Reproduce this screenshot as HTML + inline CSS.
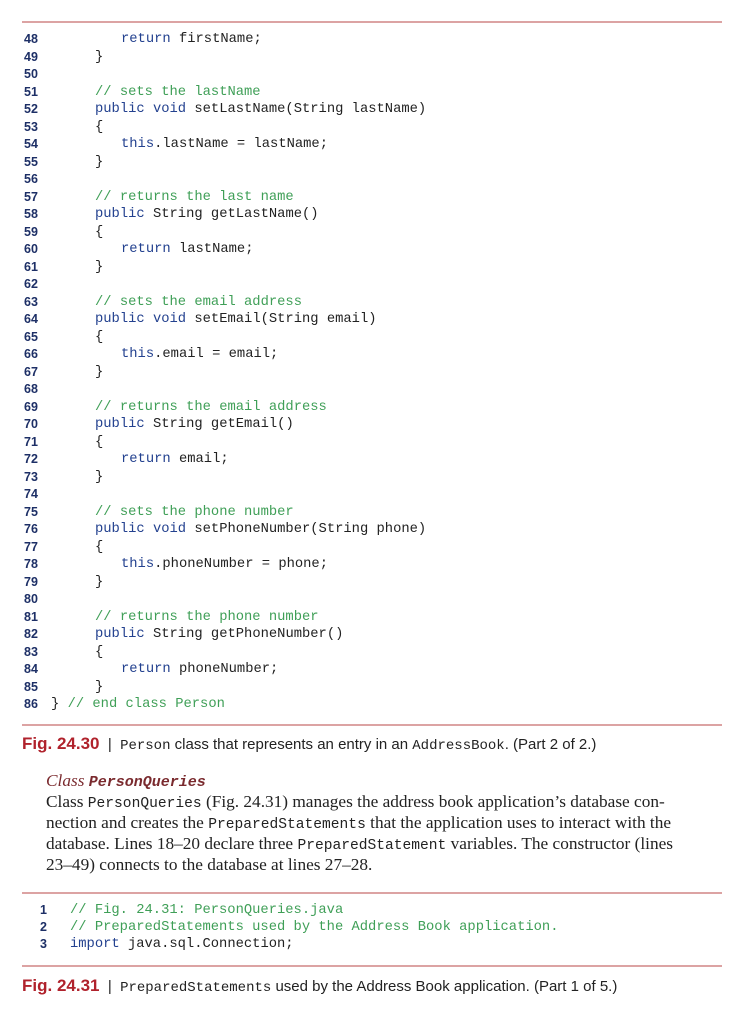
<!DOCTYPE html>
<html><head><meta charset="utf-8"><style>
body{margin:0;width:732px;height:1024px;background:#fff;position:relative;overflow:hidden;font-family:"Liberation Sans",sans-serif}
.l{position:absolute;height:18px;line-height:18px;font-family:"Liberation Mono",monospace;font-size:13.8px;color:#222;white-space:pre}
.n{position:absolute;left:24px;width:24px;height:18px;line-height:17px;font-family:"Liberation Sans",sans-serif;font-weight:bold;font-size:12.5px;color:#1d2f66}
.k{color:#23418f}.c{color:#3f9f57}
.r{position:absolute;left:22px;width:700px;height:2px;background:#dca3a3}
.cap{position:absolute;left:22px;font-size:15px;color:#222;white-space:nowrap;font-family:"Liberation Sans",sans-serif}
.cap b{color:#b0222c;font-size:17px;font-family:"Liberation Sans",sans-serif}
.m{font-family:"Liberation Mono",monospace;font-size:14px}
.p{position:absolute;left:46px;font-family:"Liberation Serif",serif;font-size:17.3px;color:#222;white-space:nowrap;line-height:21px}
.p .m{font-size:14.6px}
</style></head><body>
<div class="r" style="top:21px"></div>

<div class="n" style="top:31px">48</div><div class="l" style="top:31px;left:121px"><span class="k">return</span> firstName;</div>
<div class="n" style="top:48.5px">49</div><div class="l" style="top:48.5px;left:95px">}</div>
<div class="n" style="top:66px">50</div>
<div class="n" style="top:83.5px">51</div><div class="l c" style="top:83.5px;left:95px">// sets the lastName</div>
<div class="n" style="top:101px">52</div><div class="l" style="top:101px;left:95px"><span class="k">public void</span> setLastName(String lastName)</div>
<div class="n" style="top:118.5px">53</div><div class="l" style="top:118.5px;left:95px">{</div>
<div class="n" style="top:136px">54</div><div class="l" style="top:136px;left:121px"><span class="k">this</span>.lastName = lastName;</div>
<div class="n" style="top:153.5px">55</div><div class="l" style="top:153.5px;left:95px">}</div>
<div class="n" style="top:171px">56</div>
<div class="n" style="top:188.5px">57</div><div class="l c" style="top:188.5px;left:95px">// returns the last name</div>
<div class="n" style="top:206px">58</div><div class="l" style="top:206px;left:95px"><span class="k">public</span> String getLastName()</div>
<div class="n" style="top:223.5px">59</div><div class="l" style="top:223.5px;left:95px">{</div>
<div class="n" style="top:241px">60</div><div class="l" style="top:241px;left:121px"><span class="k">return</span> lastName;</div>
<div class="n" style="top:258.5px">61</div><div class="l" style="top:258.5px;left:95px">}</div>
<div class="n" style="top:276px">62</div>
<div class="n" style="top:293.5px">63</div><div class="l c" style="top:293.5px;left:95px">// sets the email address</div>
<div class="n" style="top:311px">64</div><div class="l" style="top:311px;left:95px"><span class="k">public void</span> setEmail(String email)</div>
<div class="n" style="top:328.5px">65</div><div class="l" style="top:328.5px;left:95px">{</div>
<div class="n" style="top:346px">66</div><div class="l" style="top:346px;left:121px"><span class="k">this</span>.email = email;</div>
<div class="n" style="top:363.5px">67</div><div class="l" style="top:363.5px;left:95px">}</div>
<div class="n" style="top:381px">68</div>
<div class="n" style="top:398.5px">69</div><div class="l c" style="top:398.5px;left:95px">// returns the email address</div>
<div class="n" style="top:416px">70</div><div class="l" style="top:416px;left:95px"><span class="k">public</span> String getEmail()</div>
<div class="n" style="top:433.5px">71</div><div class="l" style="top:433.5px;left:95px">{</div>
<div class="n" style="top:451px">72</div><div class="l" style="top:451px;left:121px"><span class="k">return</span> email;</div>
<div class="n" style="top:468.5px">73</div><div class="l" style="top:468.5px;left:95px">}</div>
<div class="n" style="top:486px">74</div>
<div class="n" style="top:503.5px">75</div><div class="l c" style="top:503.5px;left:95px">// sets the phone number</div>
<div class="n" style="top:521px">76</div><div class="l" style="top:521px;left:95px"><span class="k">public void</span> setPhoneNumber(String phone)</div>
<div class="n" style="top:538.5px">77</div><div class="l" style="top:538.5px;left:95px">{</div>
<div class="n" style="top:556px">78</div><div class="l" style="top:556px;left:121px"><span class="k">this</span>.phoneNumber = phone;</div>
<div class="n" style="top:573.5px">79</div><div class="l" style="top:573.5px;left:95px">}</div>
<div class="n" style="top:591px">80</div>
<div class="n" style="top:608.5px">81</div><div class="l c" style="top:608.5px;left:95px">// returns the phone number</div>
<div class="n" style="top:626px">82</div><div class="l" style="top:626px;left:95px"><span class="k">public</span> String getPhoneNumber()</div>
<div class="n" style="top:643.5px">83</div><div class="l" style="top:643.5px;left:95px">{</div>
<div class="n" style="top:661px">84</div><div class="l" style="top:661px;left:121px"><span class="k">return</span> phoneNumber;</div>
<div class="n" style="top:678.5px">85</div><div class="l" style="top:678.5px;left:95px">}</div>
<div class="n" style="top:696px">86</div><div class="l" style="top:696px;left:51px">} <span class="c">// end class Person</span></div>

<div class="r" style="top:724px"></div>
<div class="cap" style="top:734px"><b>Fig. 24.30</b> &nbsp;|&nbsp; <span class="m">Person</span> class that represents an entry in an <span class="m">AddressBook</span>. (Part 2 of 2.)</div>

<div class="p" style="top:770px;color:#7a2a2e;font-style:italic">Class <b style="font-family:'Liberation Mono',monospace;font-size:15px">PersonQueries</b></div>
<div class="p" style="top:791px">Class <span class="m">PersonQueries</span> (Fig. 24.31) manages the address book application’s database con-</div>
<div class="p" style="top:812px">nection and creates the <span class="m">PreparedStatements</span> that the application uses to interact with the</div>
<div class="p" style="top:833px">database. Lines 18–20 declare three <span class="m">PreparedStatement</span> variables. The constructor (lines</div>
<div class="p" style="top:854px">23–49) connects to the database at lines 27–28.</div>

<div class="r" style="top:892px"></div>
<div class="n" style="top:902px;left:40px">1</div><div class="l c" style="top:902px;left:70px">// Fig. 24.31: PersonQueries.java</div>
<div class="n" style="top:919px;left:40px">2</div><div class="l c" style="top:919px;left:70px">// PreparedStatements used by the Address Book application.</div>
<div class="n" style="top:936px;left:40px">3</div><div class="l" style="top:936px;left:70px"><span class="k">import</span> java.sql.Connection;</div>
<div class="r" style="top:965px"></div>
<div class="cap" style="top:976px"><b>Fig. 24.31</b> &nbsp;|&nbsp; <span class="m">PreparedStatements</span> used by the Address Book application. (Part 1 of 5.)</div>
</body></html>
